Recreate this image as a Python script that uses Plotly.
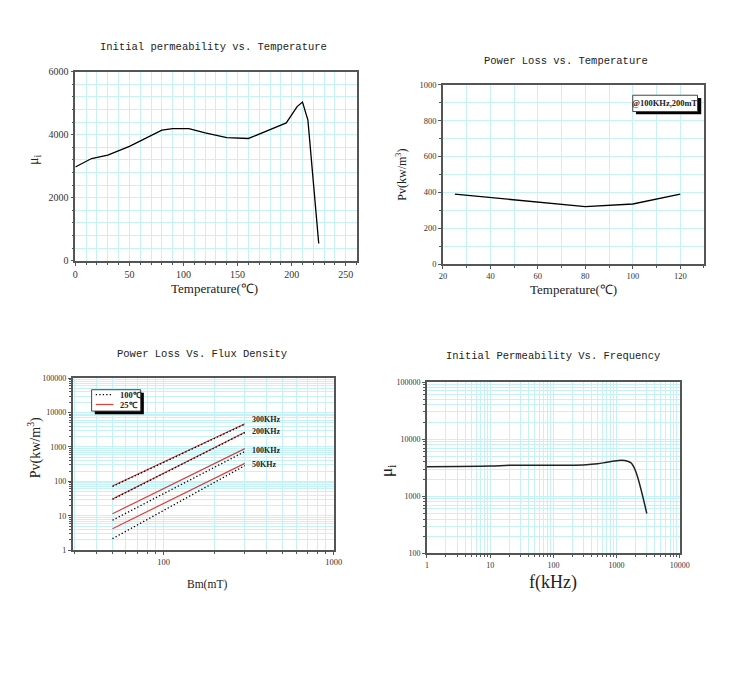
import math
import plotly.graph_objects as go

W, H = 750, 686

# ---------------- data ----------------
# Initial permeability vs temperature
t1_temp = [0, 15, 30, 50, 80, 90, 105, 120, 140, 160, 195, 205, 210, 215, 225]
t1_mu = [2975, 3245, 3350, 3630, 4145, 4195, 4195, 4060, 3910, 3880, 4375, 4890, 5035, 4460, 550]

# Power loss vs temperature
t2_temp = [25, 80, 100, 120]
t2_pv = [390, 320, 335, 390]

# Power loss vs flux density
bm = [50, 100, 200, 300]
freq_labels = ["300KHz", "200KHz", "100KHz", "50KHz"]
label_y = [6200, 2740, 785, 306]
pv_25c = {
    "300KHz": [73, 370, 1860, 4740],
    "200KHz": [30.6, 170, 975, 2690],
    "100KHz": [11.4, 62, 320, 896],
    "50KHz": [4.2, 22.9, 124, 334],
}
pv_100c = {
    "300KHz": [71, 362, 1820, 4600],
    "200KHz": [30, 166, 960, 2620],
    "100KHz": [7.4, 44, 261, 736],
    "50KHz": [2.15, 14.3, 95, 287],
}
legend_labels = ["100℃", "25℃"]

# Initial permeability vs frequency
f_khz = [1, 10, 20, 100, 300, 500, 700, 1000, 1200, 1500, 1700, 2000, 3000]
f_mu = [3300, 3380, 3500, 3500, 3550, 3700, 3950, 4200, 4300, 4100, 3820, 2750, 500]

# tick labels
x3_ticks = [100, 1000]
y3_ticks = [1, 10, 100, 1000, 10000, 100000]
x4_ticks = [1, 10, 100, 1000, 10000]
y4_ticks = [100, 1000, 10000, 100000]

# ---------------- styling ----------------
GRID = "#c4f2f6"
AX = "#555555"
RED = "#d9413f"
DOT = "1.3px,2.2px"
TITLE_FONT = "Liberation Mono"
SERIF = "Liberation Serif"


def px(x):
    return x / W


def py(y):
    return 1 - y / H


fig = go.Figure()

fig.add_trace(go.Scatter(x=t1_temp, y=t1_mu, mode="lines", line=dict(color="black", width=1.3),
                         xaxis="x", yaxis="y", showlegend=False))
fig.add_trace(go.Scatter(x=t2_temp, y=t2_pv, mode="lines", line=dict(color="black", width=1.3),
                         xaxis="x2", yaxis="y2", showlegend=False))
for k in freq_labels:
    fig.add_trace(go.Scatter(x=bm, y=pv_25c[k], mode="lines", line=dict(color=RED, width=1.2),
                             xaxis="x3", yaxis="y3", showlegend=False))
    fig.add_trace(go.Scatter(x=bm, y=pv_100c[k], mode="lines", line=dict(color="black", width=1.3, dash=DOT),
                             xaxis="x3", yaxis="y3", showlegend=False))
fig.add_trace(go.Scatter(x=f_khz, y=f_mu, mode="lines", line=dict(color="#222222", width=1.5, shape="spline"),
                         xaxis="x4", yaxis="y4", showlegend=False))


def lin_axis(domain, rng, dtick, minor_dtick, anchor, fs):
    return dict(domain=domain, range=rng, dtick=dtick, tick0=0, anchor=anchor,
                showline=True, linecolor=AX, linewidth=1.5, mirror=True,
                ticks="outside", ticklen=3, tickcolor=AX, tickwidth=1,
                showgrid=True, gridcolor=GRID, gridwidth=1, zeroline=False,
                tickfont=dict(family=SERIF, size=fs, color="#333333"),
                minor=dict(dtick=minor_dtick, showgrid=True, gridcolor=GRID, gridwidth=1,
                           ticks="outside", ticklen=2, tickcolor=AX))


def log_axis(domain, rng, tickvals, anchor, fs):
    return dict(domain=domain, type="log", range=rng, anchor=anchor,
                tickvals=tickvals, ticktext=[str(v) for v in tickvals],
                showline=True, linecolor=AX, linewidth=1.5, mirror=True,
                ticks="outside", ticklen=3, tickcolor=AX, tickwidth=1,
                showgrid=True, gridcolor=GRID, gridwidth=1, zeroline=False,
                tickfont=dict(family=SERIF, size=fs, color="#333333"),
                minor=dict(dtick="D1", showgrid=True, gridcolor=GRID, gridwidth=1,
                           ticks="outside", ticklen=2, tickcolor=AX))


layout = dict(
    width=W, height=H, margin=dict(l=0, r=0, t=0, b=0),
    paper_bgcolor="white", plot_bgcolor="white", showlegend=False,
    xaxis=lin_axis([px(72.7), px(359.3)], [0, 260], 50, 10, "y", 10),
    yaxis=lin_axis([py(260), py(67.7)], [0, 6000], 2000, 400, "x", 10),
    xaxis2=lin_axis([px(447.3), px(713.3)], [20, 130], 20, 10, "y2", 8.5),
    yaxis2=lin_axis([py(263.3), py(81)], [0, 1000], 200, 100, "x2", 8.5),
    xaxis3=log_axis([px(70), px(336)], [1.465, 3], x3_ticks, "y3", 8.5),
    yaxis3=log_axis([py(554), py(379.3)], [0, 5], y3_ticks, "x3", 8),
    xaxis4=log_axis([px(431), px(688.7)], [0, 4], x4_ticks, "y4", 8),
    yaxis4=log_axis([py(557.3), py(383.3)], [2, 5], y4_ticks, "x4", 8),
)
fig.update_layout(**layout)

ann = []
shapes = []


def text(x, y, s, size, family=TITLE_FONT, angle=0, xanchor="center", color="#222222"):
    ann.append(dict(x=px(x), y=py(y), xref="paper", yref="paper", text=s, showarrow=False,
                    font=dict(family=family, size=size, color=color), textangle=angle,
                    xanchor=xanchor, yanchor="middle"))


# titles
text(213, 43, "Initial permeability vs. Temperature", 10.5)
text(573, 57, "Power Loss vs. Temperature", 10.5)
text(202, 355, "Power Loss Vs. Flux Density", 10.5)
text(559, 357, "Initial Permeability Vs. Frequency", 10.5)

# axis titles
text(214, 288, "Temperature(℃)", 13, SERIF)
text(31, 157, "μ<sub>i</sub>", 14, SERIF, angle=-90)
text(580, 289, "Temperature(℃)", 13, SERIF)
text(405, 172, "Pv(kw/m<sup>3</sup>)", 12, SERIF, angle=-90)
text(207, 589, "Bm(mT)", 11.5, SERIF)
text(31, 450, "Pv(kw/m<sup>3</sup>)", 14, SERIF, angle=-90)
text(559, 587, "f(kHz)", 18, SERIF)
text(392, 473, "μ<sub>i</sub>", 17, SERIF, angle=-90)

# curve labels in flux density plot
for lab, yv in zip(freq_labels, label_y):
    ann.append(dict(x=2.505, y=math.log10(yv), xref="x3", yref="y3", text="<b>" + lab + "</b>",
                    showarrow=False, xanchor="left", yanchor="middle",
                    font=dict(family=SERIF, size=8, color="#222222")))

# annotation box top-right
shapes.append(dict(type="rect", xref="paper", yref="paper", x0=px(644), x1=px(710.5), y0=py(111), y1=py(94.5),
                   fillcolor="black", line=dict(width=0)))
shapes.append(dict(type="rect", xref="paper", yref="paper", x0=px(640.7), x1=px(706.7), y0=py(108.3), y1=py(91.7),
                   fillcolor="white", line=dict(color="#444444", width=1)))
text(673.7, 100, "<b>@100KHz,200mT</b>", 8.5, SERIF)

# legend box in flux density plot
shapes.append(dict(type="rect", xref="paper", yref="paper", x0=px(92.5), x1=px(142.5), y0=py(416), y1=py(394),
                   fillcolor="black", line=dict(width=0)))
shapes.append(dict(type="rect", xref="paper", yref="paper", x0=px(89.3), x1=px(139.3), y0=py(412.7), y1=py(391),
                   fillcolor="white", line=dict(color="#444444", width=1)))
shapes.append(dict(type="line", xref="paper", yref="paper", x0=px(93.5), x1=px(110), y0=py(396), y1=py(396),
                   line=dict(color="black", width=1.3, dash=DOT)))
shapes.append(dict(type="line", xref="paper", yref="paper", x0=px(93.5), x1=px(111.5), y0=py(406), y1=py(406),
                   line=dict(color=RED, width=1.2)))
text(116.5, 396, "<b>" + legend_labels[0] + "</b>", 8.5, SERIF, xanchor="left")
text(116.5, 406.5, "<b>" + legend_labels[1] + "</b>", 8.5, SERIF, xanchor="left")

fig.update_layout(annotations=ann, shapes=shapes)
fig.write_html("out.html")
